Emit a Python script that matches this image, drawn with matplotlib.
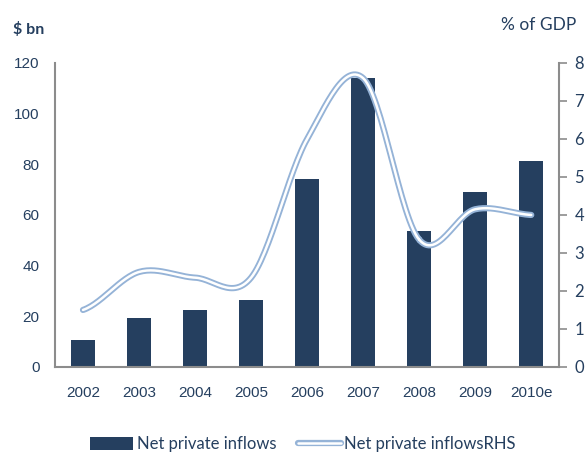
import matplotlib
matplotlib.use("Agg")
import matplotlib.pyplot as plt
from matplotlib.lines import Line2D
from matplotlib.patches import Patch
from matplotlib.legend_handler import HandlerTuple
import numpy as np

NAVY = "#253f5f"
LIGHT = "#95b3d7"
GREY = "#8c8c8c"

years = ["2002", "2003", "2004", "2005", "2006", "2007", "2008", "2009", "2010e"]
inflows_bn = [10.5, 19.5, 22.3, 26.3, 74, 114, 53.5, 69, 81.3]
inflows_gdp = [1.5, 2.5, 2.35, 2.35, 6.0, 7.6, 3.35, 4.15, 4.0]


def smooth(xs, ys, n=30):
    # excel style smoothed line (catmull-rom through the points)
    xs = np.asarray(xs, float)
    ys = np.asarray(ys, float)
    px = np.concatenate([[2 * xs[0] - xs[1]], xs, [2 * xs[-1] - xs[-2]]])
    py = np.concatenate([[ys[0]], ys, [ys[-1]]])
    ox, oy = [], []
    t = np.linspace(0, 1, n)
    for i in range(1, len(px) - 2):
        for arr, out in ((px, ox), (py, oy)):
            p0, p1, p2, p3 = arr[i - 1], arr[i], arr[i + 1], arr[i + 2]
            out.extend(0.5 * ((2 * p1) + (-p0 + p2) * t
                              + (2 * p0 - 5 * p1 + 4 * p2 - p3) * t ** 2
                              + (-p0 + 3 * p1 - 3 * p2 + p3) * t ** 3))
    return np.array(ox), np.array(oy)


fig = plt.figure(figsize=(5.85, 4.53), dpi=100)
ax = fig.add_axes([0.094, 0.19, 0.862, 0.671])
ax2 = ax.twinx()

x = np.arange(len(years))
ax.bar(x, inflows_bn, width=0.43, color=NAVY, zorder=2)
ax.set_xlim(-0.5, len(years) - 0.5)
ax.set_ylim(0, 120)
ax.set_yticks(np.arange(0, 121, 20))
ax.set_xticks(x)
ax.set_xticklabels(years)

sx, sy = smooth(x, inflows_gdp)
ax2.plot(sx, sy, color=LIGHT, lw=4.5, solid_capstyle="round", zorder=3)
ax2.plot(sx, sy, color="white", lw=1.8, solid_capstyle="round", zorder=4)
ax2.set_ylim(0, 8)
ax2.set_yticks(range(0, 9))

for a in (ax, ax2):
    a.spines["top"].set_visible(False)
    for s in a.spines.values():
        s.set_color(GREY)
        s.set_linewidth(1.5)
ax.spines["right"].set_visible(False)
ax2.spines["left"].set_visible(False)
ax2.spines["bottom"].set_visible(False)

ax.tick_params(axis="y", length=0, pad=11, labelsize=11, labelcolor=NAVY)
ax.tick_params(axis="x", length=0, pad=14, labelsize=11, labelcolor=NAVY)
for lab in ax.get_xticklabels() + ax.get_yticklabels():
    lab.set_family("Liberation Sans")
ax2.tick_params(axis="y", length=6, width=1.2, color=GREY, pad=5, labelsize=12, labelcolor=NAVY)
for lab in ax2.get_yticklabels():
    lab.set_family("Lato")

fig.text(13 / 585, 1 - 30 / 453, "$ bn", fontsize=11.5, fontweight="bold", color=NAVY,
         family="Lato", va="center", ha="left")
fig.text(576 / 585, 1 - 25 / 453, "% of GDP", fontsize=12.5, color=NAVY,
         family="Lato", va="center", ha="right")

bar_h = Patch(facecolor=NAVY)
line_h = (Line2D([], [], color=LIGHT, lw=4.5, solid_capstyle="round"),
          Line2D([], [], color="white", lw=1.8, solid_capstyle="round"))
fig.legend([bar_h, line_h], ["Net private inflows", "Net private inflowsRHS"],
           handler_map={tuple: HandlerTuple(ndivide=1)},
           loc="center", bbox_to_anchor=(303 / 585, 1 - 444 / 453), ncol=2, frameon=False,
           prop={"family": "Lato", "size": 12}, labelcolor=NAVY,
           handlelength=2.6, handleheight=0.8, handletextpad=0.2, columnspacing=1.3)

fig.savefig("out.png", dpi=100)
